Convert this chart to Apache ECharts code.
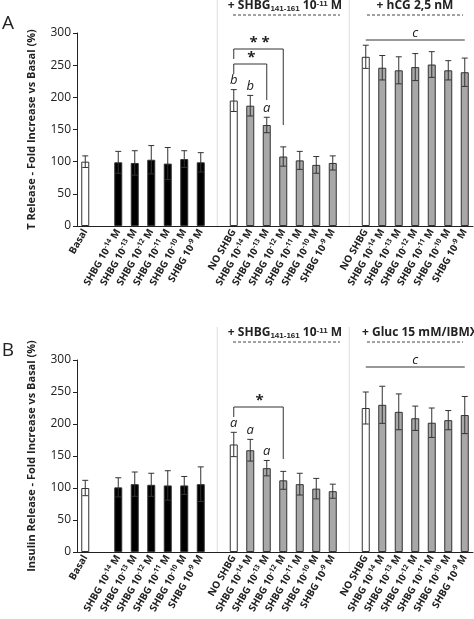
<!DOCTYPE html>
<html><head><meta charset="utf-8">
<script src="https://cdn.jsdelivr.net/npm/echarts@6/dist/echarts.min.js"></script>
<style>html,body{margin:0;padding:0;background:#fff}#c{width:474px;height:619px}</style>
</head><body><div id="c"></div>
<script>
// slots: Basal, gap, 6 SHBG, gap, 7 stimulated+SHBG, gap, 7 stimulated
var categories = ['Basal', ' ',
  'SHBG 10{s|-14} M', 'SHBG 10{s|-13} M', 'SHBG 10{s|-12} M', 'SHBG 10{s|-11} M', 'SHBG 10{s|-10} M', 'SHBG 10{s|-9} M', '  ',
  'NO SHBG', 'SHBG 10{s|-14} M', 'SHBG 10{s|-13} M', 'SHBG 10{s|-12} M', 'SHBG 10{s|-11} M', 'SHBG 10{s|-10} M', 'SHBG 10{s|-9} M', '   ',
  'NO SHBG', 'SHBG 10{s|-14} M', 'SHBG 10{s|-13} M', 'SHBG 10{s|-12} M', 'SHBG 10{s|-11} M', 'SHBG 10{s|-10} M', 'SHBG 10{s|-9} M'];
// bar kind per slot: w = white, k = black, g = gray, null = blank
var kinds = ['w', null, 'k','k','k','k','k','k', null, 'w','g','g','g','g','g','g', null, 'w','g','g','g','g','g','g'];

var tValues = [100, null, 99, 98, 103, 97, 104, 99, null, 195, 187, 157, 108, 102, 95, 98, null, 263, 246, 242, 247, 251, 242, 239];
var tErrors = [9, null, 17, 19, 22, 25, 13, 15, null, 17, 16, 12, 15, 14, 13, 11, null, 18, 19, 21, 21, 20, 15, 22];
var insValues = [100, null, 101, 106, 105, 104, 104, 106, null, 168, 159, 131, 112, 106, 99, 95, null, 225, 230, 219, 209, 202, 206, 214];
var insErrors = [12, null, 15, 19, 18, 23, 14, 27, null, 19, 17, 12, 14, 17, 16, 11, null, 25, 29, 28, 19, 23, 15, 29];
var yTicks = [0, 50, 100, 150, 200, 250, 300];

var fills = { w: '#ffffff', k: '#000000', g: '#a8a8a8' };
var chart = echarts.init(document.getElementById('c'));

function barData(vals) {
  return vals.map(function (v, i) {
    if (v === null) return '-';
    return { value: v, itemStyle: { color: fills[kinds[i]], borderColor: '#333', borderWidth: 1 } };
  });
}
function errData(vals, errs) {
  var out = [];
  vals.forEach(function (v, i) { if (v !== null) out.push([i, v - errs[i], v + errs[i]]); });
  return out;
}
function renderErr(params, api) {
  var lo = api.coord([api.value(0), api.value(1)]);
  var hi = api.coord([api.value(0), api.value(2)]);
  var s = { stroke: '#333', lineWidth: 1 };
  return { type: 'group', children: [
    { type: 'line', shape: { x1: hi[0], y1: hi[1], x2: lo[0], y2: lo[1] }, style: s },
    { type: 'line', shape: { x1: hi[0] - 3, y1: hi[1], x2: hi[0] + 3, y2: hi[1] }, style: s },
    { type: 'line', shape: { x1: lo[0] - 3, y1: lo[1], x2: lo[0] + 3, y2: lo[1] }, style: s }
  ]};
}
var labelRich = { s: { fontSize: 7, fontWeight: 'bold', color: '#222', verticalAlign: 'top', padding: [0, 0, 5, 0] } };
function xAxis(idx) {
  return {
    type: 'category', gridIndex: idx, data: categories,
    axisLine: { lineStyle: { color: '#222' } },
    axisTick: { lineStyle: { color: '#222' }, length: 4 },
    axisLabel: { rotate: 60, interval: 0, fontSize: 10, fontWeight: 'bold', color: '#222', margin: 4,
      fontFamily: 'Open Sans', rich: labelRich }
  };
}
function yAxis(idx, name) {
  return {
    type: 'value', gridIndex: idx, min: 0, max: 300, interval: 50,
    name: name, nameLocation: 'middle', nameGap: 40,
    nameTextStyle: { fontSize: 11, fontWeight: 'bold', color: '#222', fontFamily: 'Open Sans' },
    axisLine: { show: true, lineStyle: { color: '#222' } },
    axisTick: { show: true, length: 4, lineStyle: { color: '#222' } },
    splitLine: { show: false },
    axisLabel: { fontSize: 12, color: '#222', margin: 6, fontFamily: 'Open Sans',
      formatter: function (v) { return yTicks.indexOf(v) >= 0 ? v : ''; } }
  };
}
function sepLines() {
  return { silent: true, symbol: 'none', label: { show: false },
    lineStyle: { color: '#ddd', type: 'solid', width: 1 },
    data: [[{ xAxis: 8, y: 0 }, { xAxis: 8, yAxis: 0 }], [{ xAxis: 16, y: 0 }, { xAxis: 16, yAxis: 0 }]] };
}

chart.setOption({
  animation: false,
  grid: [
    { left: 77, right: 1, top: 33, height: 193 },
    { left: 77, right: 1, top: 360, height: 192 }
  ],
  xAxis: [xAxis(0), xAxis(1)],
  yAxis: [yAxis(0, 'T Release - Fold Increase vs Basal (%)'), yAxis(1, 'Insulin Release - Fold Increase vs Basal (%)')],
  series: [
    { type: 'bar', xAxisIndex: 0, yAxisIndex: 0, barWidth: 8, data: barData(tValues) },
    { type: 'custom', xAxisIndex: 0, yAxisIndex: 0, renderItem: renderErr, data: errData(tValues, tErrors), z: 5 },
    { type: 'bar', xAxisIndex: 1, yAxisIndex: 1, barWidth: 8, data: barData(insValues) },
    { type: 'custom', xAxisIndex: 1, yAxisIndex: 1, renderItem: renderErr, data: errData(insValues, insErrors), z: 5 }
  ]
});

// separators spanning from top of panel down to axis
function px(g, i, v) { return chart.convertToPixel({ xAxisIndex: g, yAxisIndex: g }, [i, v]); }
var gr = [];
var txt = { fill: '#222', fontFamily: 'Open Sans', fontWeight: 'bold' };
function line(x1, y1, x2, y2, dash) {
  gr.push({ type: 'line', shape: { x1: x1, y1: y1, x2: x2, y2: y2 },
    style: { stroke: dash ? '#444' : '#333', lineWidth: 1, lineDash: dash ? [3, 2] : null } });
}
function text(x, y, t, o) {
  gr.push({ type: 'text', x: x, y: y, style: Object.assign({ text: t, align: 'center', verticalAlign: 'middle', fontSize: 12 }, txt, o || {}) });
}
var panels = [
  { g: 0, top: 0, vals: tValues, errs: tErrors, label: 'A', right: '+ hCG 2,5 nM', rightX: 415, rightAlign: 'center',
    letters: ['b', 'b', 'a'], brackets: [[12, 49, 125, '* *'], [11, 64, 100, '*']] },
  { g: 1, top: 327, vals: insValues, errs: insErrors, label: 'B', right: '+ Gluc 15 mM/IBMX', rightX: 362, rightAlign: 'left',
    letters: ['a', 'a', 'a'], brackets: [[12, 407 - 327, 459 - 327, '*']] }
];
panels.forEach(function (p) {
  var base = px(p.g, 0, 0)[1];
  [8, 16].forEach(function (i) { var x = px(p.g, i, 0)[0]; gr.push({ type: 'line', shape: { x1: x, y1: p.top, x2: x, y2: base }, style: { stroke: '#ddd', lineWidth: 1 } }); });
  text(8, p.top + 24, p.label, { fontSize: 19, fontWeight: 'normal' });
  gr.push({ type: 'text', x: 285, y: p.top + 6, style: Object.assign({
    text: '+ SHBG{sub|141-161} 10{sup|-11} M', align: 'center', verticalAlign: 'middle', fontSize: 12,
    rich: { sub: { fontSize: 8, fontWeight: 'bold', verticalAlign: 'bottom', padding: [5, 0, 0, 0] },
            sup: { fontSize: 8, fontWeight: 'bold', verticalAlign: 'top', padding: [0, 0, 5, 0] } } }, txt) });
  text(p.rightX, p.top + 6, p.right, { align: p.rightAlign });
  line(233, p.top + 15, 340, p.top + 15, true);
  line(367, p.top + 15, 463, p.top + 15, true);
  var x0 = px(p.g, 17, 0)[0], x1 = px(p.g, 23, 0)[0];
  line(x0, p.top + 40, x1, p.top + 40);
  text((x0 + x1) / 2, p.top + 33, 'c', { fontStyle: 'italic', fontWeight: 'normal', fontSize: 13 });
  p.letters.forEach(function (l, k) {
    var i = 9 + k, pt = px(p.g, i, p.vals[i] + p.errs[i]);
    text(pt[0], pt[1] - 9, l, { fontStyle: 'italic', fontWeight: 'normal', fontSize: 13 });
  });
  p.brackets.forEach(function (b) {
    var xl = px(p.g, 9, 0)[0], xr = px(p.g, b[0], 0)[0];
    var yt = p.top + b[1];
    line(xl, yt, xr, yt); line(xl, yt, xl, yt + 10); line(xr, yt, xr, p.top + b[2]);
    text((xl + xr) / 2 + 1, yt - 6, b[3], { fontSize: 15 });
  });
});
chart.setOption({ graphic: gr });
</script></body></html>
